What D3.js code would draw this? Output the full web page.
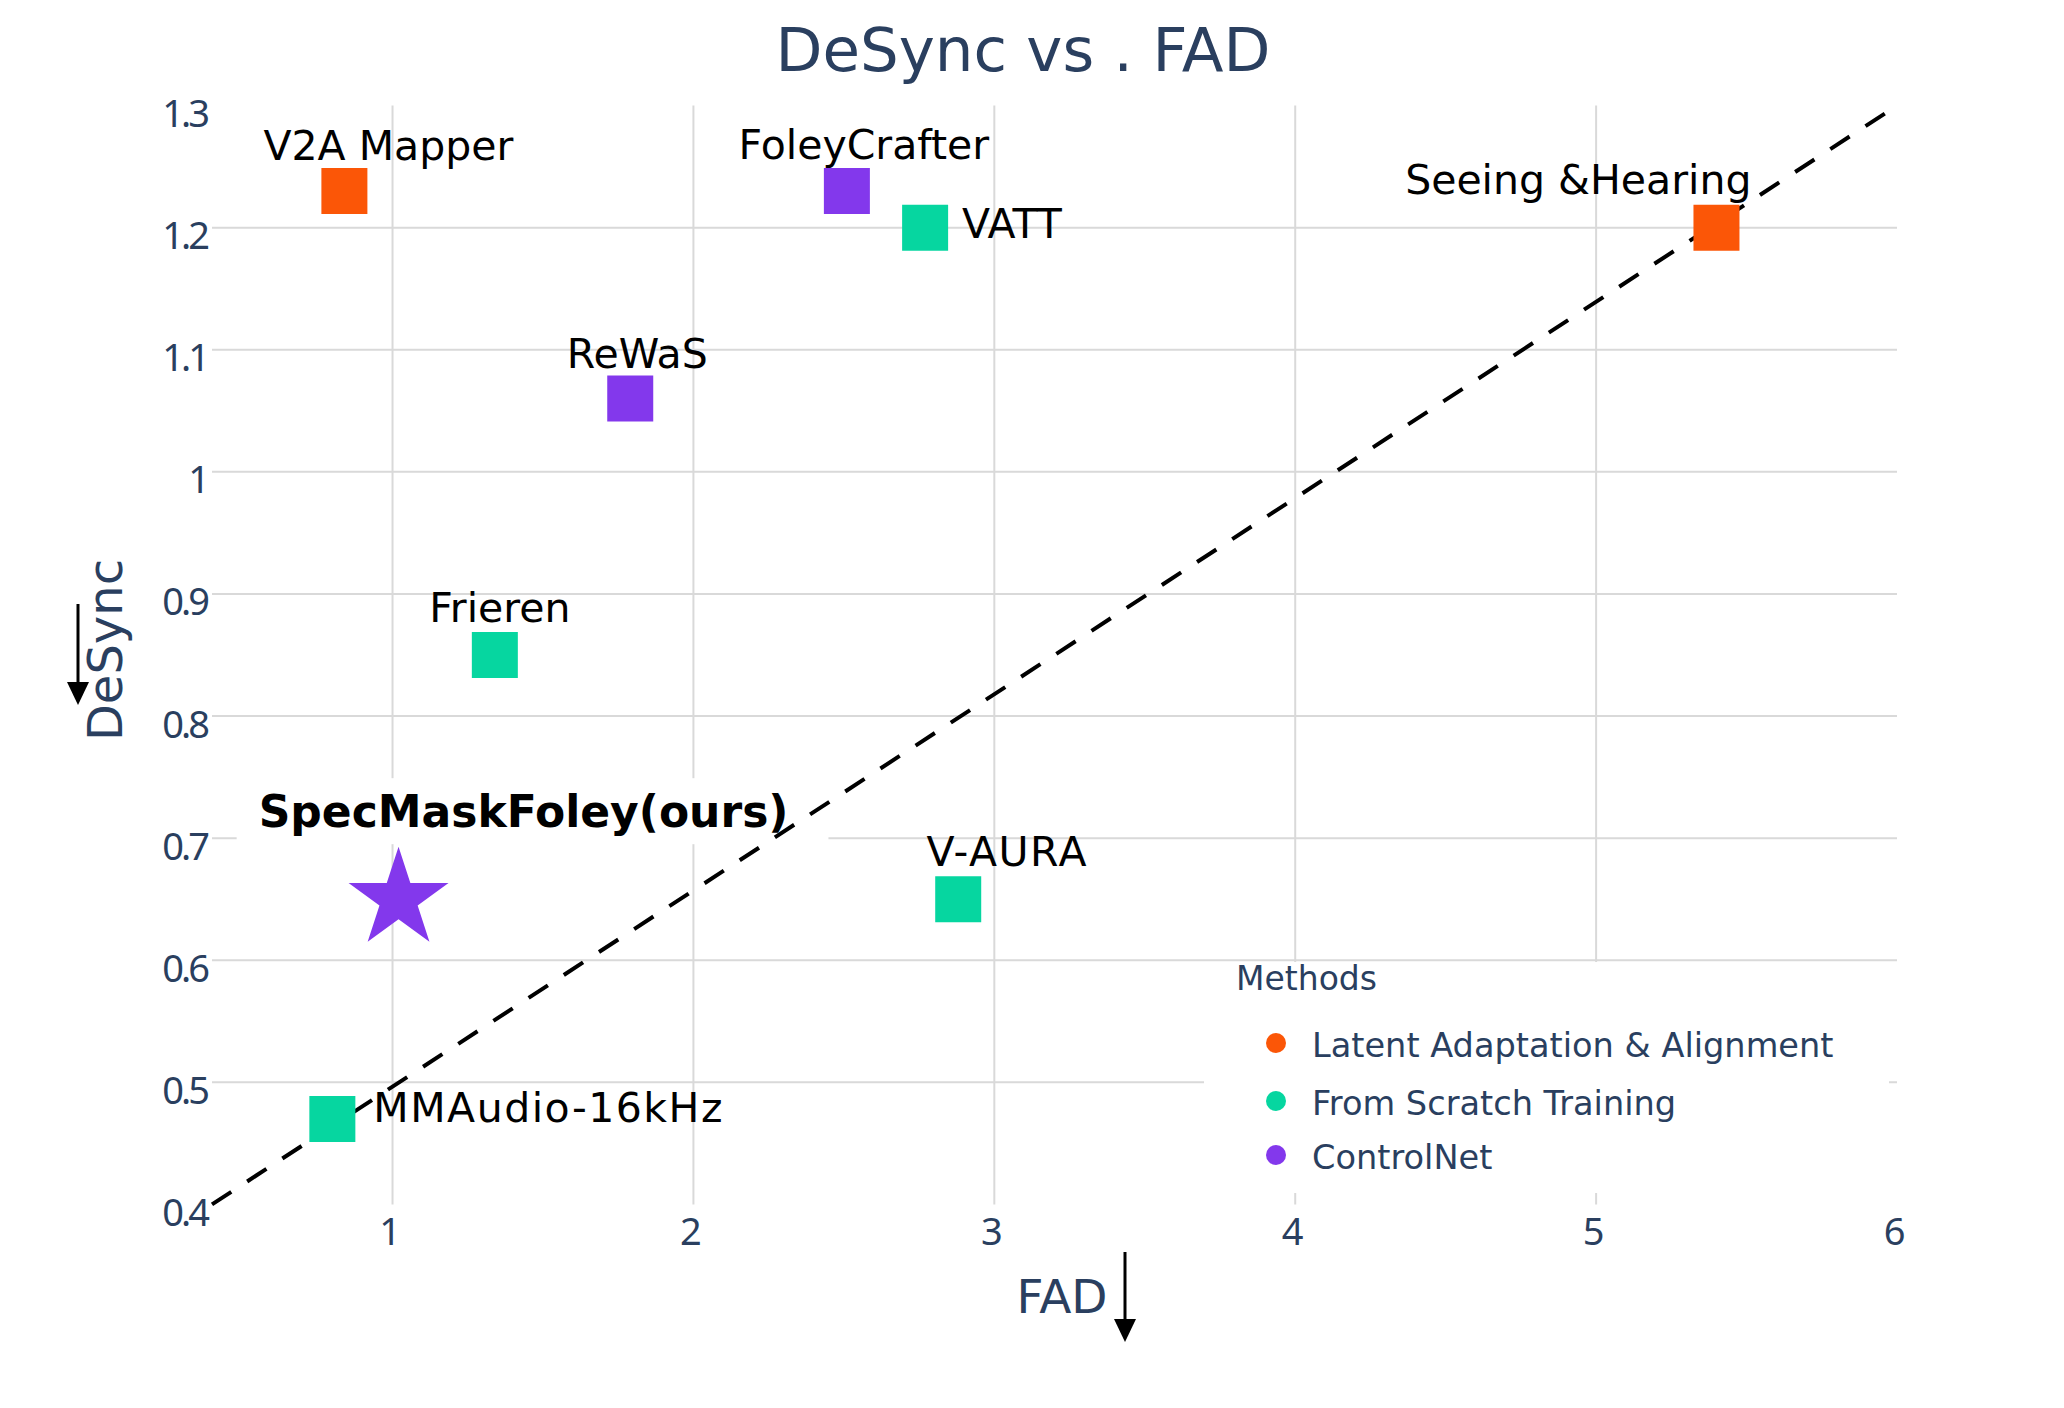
<!DOCTYPE html>
<html>
<head>
<meta charset="utf-8">
<script src="https://cdn.jsdelivr.net/npm/d3@7"></script>
<style>
  html, body { margin: 0; padding: 0; background: #ffffff; }
  svg { display: block; }
</style>
</head>
<body>
<script>
// ---------------- DATA ----------------
const methods   = ["V2A Mapper", "FoleyCrafter", "VATT", "Seeing &Hearing", "ReWaS", "Frieren", "SpecMaskFoley(ours)", "V-AURA", "MMAudio-16kHz"];
const fadValues = [0.84, 2.51, 2.77, 5.40, 1.79, 1.34, 1.02, 2.88, 0.80];
const desyncValues = [1.23, 1.23, 1.20, 1.20, 1.06, 0.85, 0.65, 0.65, 0.47];
const methodGroups = ["Latent Adaptation & Alignment", "ControlNet", "From Scratch Training", "Latent Adaptation & Alignment", "ControlNet", "From Scratch Training", "ControlNet", "From Scratch Training", "From Scratch Training"];
const groups = ["Latent Adaptation & Alignment", "From Scratch Training", "ControlNet"];
const groupColors = ["#FB5607", "#06D6A0", "#8338EC"];
const oursMethod = "SpecMaskFoley(ours)";
const refLineX = [0.4, 6];
const refLineY = [0.4, 1.3];
const xTickValues = [1, 2, 3, 4, 5, 6];
const xTickLabels = ["1", "2", "3", "4", "5", "6"];
const yTickValues = [0.4, 0.5, 0.6, 0.7, 0.8, 0.9, 1.0, 1.1, 1.2, 1.3];
const yTickLabels = ["0.4", "0.5", "0.6", "0.7", "0.8", "0.9", "1", "1.1", "1.2", "1.3"];
const xGridValues = [1, 2, 3, 4, 5];
const yGridValues = [0.5, 0.6, 0.7, 0.8, 0.9, 1.0, 1.1, 1.2];
const chartTitle = "DeSync vs . FAD";
const xTitle = "FAD";
const yTitle = "DeSync";
const legendTitle = "Methods";

// ---------------- LAYOUT / STYLE ----------------
const W = 2064, H = 1408;
const plot = { left: 212, right: 1897, top: 105.6, bottom: 1204.4 };
const labelStyle = {
  "V2A Mapper":          { anchor: "middle", dx: 44,  dy: -31, ls: 0 },
  "FoleyCrafter":        { anchor: "middle", dx: 17,  dy: -32, ls: 0 },
  "VATT":                { anchor: "start",  dx: 37,  dy: 10,  ls: 0 },
  "Seeing &Hearing":     { anchor: "end",    dx: 35,  dy: -34, ls: 0 },
  "ReWaS":               { anchor: "middle", dx: 7,   dy: -31, ls: 0 },
  "Frieren":             { anchor: "middle", dx: 5,   dy: -33, ls: 0 },
  "SpecMaskFoley(ours)": { anchor: "middle", dx: 125, dy: -72, ls: 0 },
  "V-AURA":              { anchor: "middle", dx: 49,  dy: -33, ls: 1.5 },
  "MMAudio-16kHz":       { anchor: "start",  dx: 41,  dy: 3,   ls: 1.5 }
};
const axisColor = "#2a3f5f";
const gridColor = "#d9d9d9";
const tickFont = "'Noto Sans', 'Open Sans', sans-serif";
const mainFont = "'DejaVu Sans', sans-serif";

const svg = d3.select("body").append("svg")
  .attr("width", W).attr("height", H)
  .attr("viewBox", `0 0 ${W} ${H}`);

svg.append("rect").attr("width", W).attr("height", H).attr("fill", "#fff");

const x = d3.scaleLinear().domain([0.4, 6]).range([plot.left, plot.right]);
const y = d3.scaleLinear().domain([0.4, 1.3]).range([plot.bottom, plot.top]);
const color = d3.scaleOrdinal().domain(groups).range(groupColors);

// grid
const grid = svg.append("g");
grid.selectAll(".vg").data(xGridValues).join("line")
  .attr("x1", d => x(d)).attr("x2", d => x(d))
  .attr("y1", plot.top).attr("y2", plot.bottom)
  .attr("stroke", gridColor).attr("stroke-width", 2);
grid.selectAll(".hg").data(yGridValues).join("line")
  .attr("x1", plot.left).attr("x2", plot.right)
  .attr("y1", d => y(d)).attr("y2", d => y(d))
  .attr("stroke", gridColor).attr("stroke-width", 2);

// axes (tick labels only)
const xAxis = d3.axisBottom(x).tickValues(xTickValues)
  .tickFormat((d, i) => xTickLabels[i]).tickSize(0).tickPadding(0);
const gx = svg.append("g").attr("transform", `translate(0,${plot.bottom})`).call(xAxis);
gx.select(".domain").remove();
gx.selectAll("text")
  .attr("y", 41).attr("dy", null).attr("dx", -3)
  .attr("fill", axisColor)
  .style("font-family", tickFont).style("font-size", "38px");

const yAxis = d3.axisLeft(y).tickValues(yTickValues)
  .tickFormat((d, i) => yTickLabels[i]).tickSize(0).tickPadding(0);
const gy = svg.append("g").attr("transform", `translate(${plot.left - 5},0)`).call(yAxis);
gy.select(".domain").remove();
gy.selectAll("text")
  .attr("x", 0).attr("dy", null).attr("y", 21)
  .attr("fill", axisColor)
  .style("font-family", tickFont).style("font-size", "38px")
  .style("letter-spacing", "-3px");

const data = methods.map((m, i) => ({
  name: m, fad: fadValues[i], desync: desyncValues[i], group: methodGroups[i]
}));

const oursBoxLayer = svg.append("g");

// reference dashed line
const line = d3.line().x(d => x(d[0])).y(d => y(d[1]));
svg.append("path")
  .datum(refLineX.map((v, i) => [v, refLineY[i]]))
  .attr("d", line)
  .attr("fill", "none")
  .attr("stroke", "#000")
  .attr("stroke-width", 4)
  .attr("stroke-dasharray", "23,19");

// markers
const symSquare = d3.symbol().type(d3.symbolSquare).size(46 * 46);
const symStar = d3.symbol().type(d3.symbolStar).size(3100);
svg.append("g").selectAll("path").data(data).join("path")
  .attr("transform", d => `translate(${x(d.fad)},${y(d.desync)})`)
  .attr("d", d => d.name === oursMethod ? symStar() : symSquare())
  .attr("fill", d => color(d.group));

// text labels
const labels = svg.append("g").selectAll("text").data(data).join("text")
  .attr("x", d => x(d.fad) + labelStyle[d.name].dx)
  .attr("y", d => y(d.desync) + labelStyle[d.name].dy)
  .attr("text-anchor", d => labelStyle[d.name].anchor)
  .attr("fill", "#000")
  .style("font-family", mainFont)
  .style("font-size", d => d.name === oursMethod ? "44px" : "41px")
  .style("font-weight", d => d.name === oursMethod ? "bold" : "normal")
  .style("letter-spacing", d => labelStyle[d.name].ls + "px")
  .text(d => d.name);

// white box behind ours label
labels.filter(d => d.name === oursMethod).each(function () {
  const b = this.getBBox();
  oursBoxLayer.append("rect")
    .attr("x", b.x - 22).attr("y", b.y - 8)
    .attr("width", b.width + 62).attr("height", b.height + 15)
    .attr("fill", "#fff");
});

// title
svg.append("text")
  .attr("x", 1023).attr("y", 71)
  .attr("text-anchor", "middle")
  .attr("fill", axisColor)
  .style("font-family", mainFont).style("font-size", "61px")
  .text(chartTitle);

// axis titles
svg.append("text")
  .attr("x", 1062).attr("y", 1313)
  .attr("text-anchor", "middle")
  .attr("fill", axisColor)
  .style("font-family", mainFont).style("font-size", "47px")
  .text(xTitle);
svg.append("text")
  .attr("transform", "translate(122,650) rotate(-90)")
  .attr("text-anchor", "middle")
  .attr("fill", axisColor)
  .style("font-family", mainFont).style("font-size", "48px")
  .text(yTitle);

// arrows
function arrow(xp, y0, y1) {
  svg.append("line").attr("x1", xp).attr("x2", xp).attr("y1", y0).attr("y2", y1 - 20)
    .attr("stroke", "#000").attr("stroke-width", 3);
  svg.append("path")
    .attr("d", `M${xp - 11},${y1 - 23} L${xp + 11},${y1 - 23} L${xp},${y1} Z`)
    .attr("fill", "#000");
}
arrow(1125, 1252, 1342);
arrow(78, 604, 705);

// legend
const lg = svg.append("g");
lg.append("rect").attr("x", 1204).attr("y", 962).attr("width", 685).attr("height", 231).attr("fill", "#fff");
lg.append("text").attr("x", 1236).attr("y", 990)
  .attr("fill", axisColor)
  .style("font-family", mainFont).style("font-size", "33px")
  .text(legendTitle);
const rowY = [1057, 1115, 1169];
const items = lg.selectAll("g.item").data(groups).join("g")
  .attr("transform", (d, i) => `translate(0,${rowY[i]})`);
items.append("circle").attr("cx", 1276).attr("cy", -14).attr("r", 10)
  .attr("fill", d => color(d));
items.append("text").attr("x", 1312).attr("y", 0)
  .attr("fill", axisColor)
  .style("font-family", mainFont).style("font-size", "33.6px")
  .text(d => d);
</script>
</body>
</html>
